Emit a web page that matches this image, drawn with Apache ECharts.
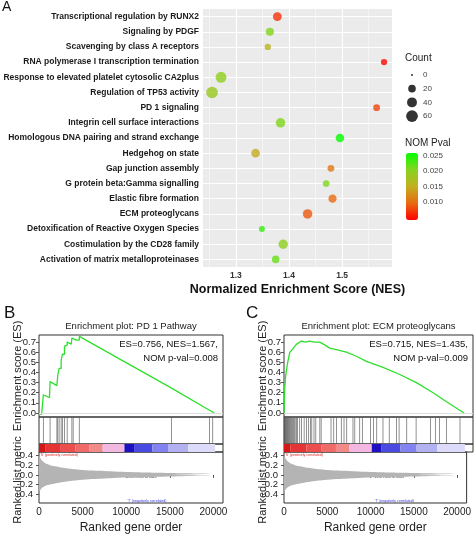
<!DOCTYPE html>
<html>
<head>
<meta charset="utf-8">
<script src="https://cdn.jsdelivr.net/npm/echarts@6/dist/echarts.min.js"></script>
<style>html,body{margin:0;padding:0;background:#fff}#c{width:474px;height:535px}</style>
</head>
<body>
<div id="c"></div>
<script>
// panel A: pathway dots
const pathways = ["Transcriptional regulation by RUNX2", "Signaling by PDGF", "Scavenging by class A receptors",
  "RNA polymerase I transcription termination", "Response to elevated platelet cytosolic CA2plus",
  "Regulation of TP53 activity", "PD 1 signaling", "Integrin cell surface interactions",
  "Homologous DNA pairing and strand exchange", "Hedgehog on state", "Gap junction assembly",
  "G protein beta:Gamma signalling", "Elastic fibre formation", "ECM proteoglycans",
  "Detoxification of Reactive Oxygen Species", "Costimulation by the CD28 family",
  "Activation of matrix metalloproteinases"];
const nes = [1.378, 1.364, 1.360, 1.579, 1.272, 1.255, 1.565, 1.384, 1.496, 1.337, 1.479, 1.470, 1.482, 1.435, 1.349, 1.389, 1.375];
const counts = [30, 24, 12, 12, 50, 60, 15, 36, 28, 28, 15, 14, 25, 36, 10, 35, 20];
const pvals = [0.007, 0.021, 0.016, 0.005, 0.020, 0.019, 0.008, 0.021, 0.026, 0.015, 0.011, 0.021, 0.010, 0.009, 0.024, 0.020, 0.022];
const nesTicks = [1.3, 1.4, 1.5];
const nesGrid = [1.25, 1.3, 1.35, 1.4, 1.45, 1.5, 1.55];
const countLegend = [0, 20, 40, 60];
const pvalTicks = [0.025, 0.020, 0.015, 0.010];

// panel B: PD 1 pathway
const esB = [[0,0],[300,-0.015],[500,-0.01],[500,0.18],[1200,0.15],[1270,0.15],[1270,0.31],[2050,0.27],[2150,0.27],[2150,0.37],
  [2310,0.44],[2500,0.43],[2540,0.44],[2540,0.52],[2690,0.53],[2690,0.58],[2900,0.57],[2920,0.58],[2920,0.66],[3230,0.67],[3230,0.70],
  [3700,0.68],[3770,0.68],[3770,0.74],[4300,0.72],[4620,0.72],[4620,0.756],[15100,0.25],[15190,0.24],[20100,0]];
const hitsB = [500, 1270, 2050, 2150, 2310, 2540, 2690, 2920, 3230, 3770, 3920, 4620, 15190, 19540, 19920];
// panel C: ECM proteoglycans
const esC = [[0,0],[75,0.235],[186,0.366],[372,0.48],[633,0.595],[931,0.628],[1378,0.677],[1937,0.71],[2400,0.70],[2868,0.71],
  [3400,0.70],[3985,0.70],[4600,0.67],[5100,0.64],[5850,0.625],[6960,0.60],[8080,0.56],[9200,0.51],[11060,0.45],[12920,0.38],
  [14780,0.30],[16650,0.20],[18140,0.11],[20100,0]];
const hitsC = [20, 60, 100, 150, 200, 260, 320, 380, 450, 520, 600, 680, 760, 850, 950, 1050, 1150, 1250, 1400, 1500,
  1750, 1950, 2250, 2500, 2750, 2950, 3100, 3350, 3550, 4000, 4150, 5250, 5550, 5850, 6400, 6700, 7000, 7700, 7900,
  8450, 8750, 9650, 10000, 10350, 11050, 11750, 12550, 12850, 13700, 14750, 16350, 16900, 17350, 18150, 19650];
const segStart = [0, 700, 2500, 4200, 5800, 7300, 9800, 10900, 13000, 14800, 17100];
const segEnd = [700, 2500, 4200, 5800, 7300, 9800, 10900, 13000, 14800, 17100, 20200];
const segColor = ['#d41616', '#e43434', '#ec4e4e', '#f06a6a', '#f28a8a', '#f2b8e0', '#1c10c0', '#4a4ae2', '#8282f0', '#b2b2f2', '#dcdcfa'];
const metricX = [0, 200, 500, 1000, 2000, 3000, 5000, 7500, 10000, 15000, 20100];
const metricUp = [0.42, 0.33, 0.27, 0.22, 0.17, 0.14, 0.10, 0.08, 0.06, 0.04, 0.025];
const metricLow = [-0.36, -0.30, -0.25, -0.21, -0.17, -0.14, -0.10, -0.075, -0.055, -0.035, -0.015];
const geneTicks = [0, 5000, 10000, 15000, 20000];
const esTicks = [0, 0.1, 0.2, 0.3, 0.4, 0.5, 0.6, 0.7];
const metricTicks = [-0.4, -0.2, 0, 0.2, 0.4];

const FONT = 'Liberation Sans';
const chart = echarts.init(document.getElementById('c'));
const grids = [], xAxes = [], yAxes = [], series = [], graphics = [], metricAxes = [];
const hidden = { show: false };
const sizeOf = c => 2 + 1.25 * Math.sqrt(c);

// A grid
grids.push({ left: 203, top: 9, width: 189, height: 258, show: true, backgroundColor: '#ebebeb', borderWidth: 0 });
xAxes.push({ gridIndex: 0, type: 'value', min: 1.238, max: 1.594, splitLine: hidden, axisLine: hidden,
  axisTick: { customValues: nesTicks, length: 3, lineStyle: { color: '#333' } },
  axisLabel: { customValues: nesTicks, fontFamily: FONT, fontWeight: 'bold', fontSize: 8.5, color: '#333', margin: 4, formatter: v => v.toFixed(1) },
  name: 'Normalized Enrichment Score (NES)', nameLocation: 'middle', nameGap: 16,
  nameTextStyle: { fontFamily: FONT, fontWeight: 'bold', fontSize: 12.5, color: '#111' } });
yAxes.push({ gridIndex: 0, type: 'category', data: pathways, inverse: true, boundaryGap: true,
  axisLine: hidden, splitLine: hidden,
  axisTick: { length: 3, lineStyle: { color: '#333' }, alignWithLabel: true },
  axisLabel: { fontFamily: FONT, fontWeight: 'bold', fontSize: 8.5, color: '#1a1a1a', margin: 4, interval: 0 } });
series.push({ type: 'scatter', xAxisIndex: 0, yAxisIndex: 0, z: 5,
  data: pathways.map((p, i) => [nes[i], p, pvals[i], counts[i]]),
  symbolSize: v => sizeOf(v[3]),
  markLine: { silent: true, symbol: 'none', label: hidden, z: 1,
    data: nesGrid.map(v => ({ xAxis: v, lineStyle: { color: '#fff', type: 'solid', width: nesTicks.includes(v) ? 1.1 : 0.5 } }))
      .concat(pathways.map(p => ({ yAxis: p, lineStyle: { color: '#fff', type: 'solid', width: 1.1 } }))) } });

// A size legend
grids.push({ left: 404, top: 68, width: 16, height: 55 });
xAxes.push({ gridIndex: 1, type: 'value', min: 0, max: 1, show: false });
yAxes.push({ gridIndex: 1, type: 'category', data: countLegend.map(String), inverse: true, position: 'right',
  axisLine: hidden, axisTick: hidden, splitLine: hidden,
  axisLabel: { fontFamily: FONT, fontSize: 8, color: '#444', margin: 3 } });
series.push({ type: 'scatter', xAxisIndex: 1, yAxisIndex: 1, itemStyle: { color: '#000' },
  data: countLegend.map(c => [0.5, String(c), c]), symbolSize: v => sizeOf(v[2]) });
graphics.push({ type: 'text', left: 405, top: 53, style: { text: 'Count', font: `10px "${FONT}"`, fill: '#222' } });
graphics.push({ type: 'text', left: 405, top: 138, style: { text: 'NOM Pval', font: `10px "${FONT}"`, fill: '#222' } });
const pMin = 0.0046, pMax = 0.0261, barTop = 153, barH = 67;
pvalTicks.forEach(v => graphics.push({ type: 'text', left: 423, top: barTop + (pMax - v) / (pMax - pMin) * barH - 5,
  style: { text: v.toFixed(3), font: `8px "${FONT}"`, fill: '#444' } }));

function panel(left, width, title, es, hits, notes) {
  const g = grids.length;
  const tops = [335, 417, 444, 452], hs = [82, 27, 8, 55];
  tops.forEach((t, k) => grids.push({ left, width, top: t, height: hs[k], show: true, borderColor: '#333', borderWidth: 1, backgroundColor: 'transparent' }));
  for (let k = 0; k < 4; k++) {
    xAxes.push({ gridIndex: g + k, type: 'value', min: 0, max: 21100,
      axisLine: hidden, splitLine: hidden,
      axisTick: k === 3 ? { customValues: geneTicks, length: 3 } : hidden,
      axisLabel: k === 3 ? { customValues: geneTicks, fontFamily: FONT, fontSize: 10, color: '#222', margin: 4, formatter: v => String(v) } : hidden,
      name: k === 3 ? 'Ranked gene order' : '', nameLocation: 'middle', nameGap: 19,
      nameTextStyle: { fontFamily: FONT, fontSize: 12, color: '#222' } });
  }
  yAxes.push({ gridIndex: g, type: 'value', min: -0.04, max: 0.77, axisLine: hidden, splitLine: hidden,
    axisTick: { customValues: esTicks, length: 3 },
    axisLabel: { customValues: esTicks, fontFamily: FONT, fontSize: 9.5, lineHeight: 6, color: '#222', margin: 3, hideOverlap: false, formatter: v => v.toFixed(1) } });
  yAxes.push({ gridIndex: g + 1, type: 'value', min: 0, max: 1, show: false });
  yAxes.push({ gridIndex: g + 2, type: 'value', min: 0, max: 1, show: false });
  yAxes.push({ gridIndex: g + 3, type: 'value', min: -0.577, max: 0.47, axisLine: hidden, splitLine: hidden,
    axisTick: { customValues: metricTicks, length: 3 }, axisLabel: hidden });
  metricAxes.push({ x: g + 3, y: g + 3, left });
  series.push({ type: 'line', xAxisIndex: g, yAxisIndex: g, data: es, showSymbol: false, lineStyle: { color: '#2ee02e', width: 1.3 },
    markLine: { silent: true, symbol: 'none', label: hidden, data: [{ yAxis: 0, lineStyle: { color: '#ddd', type: 'solid', width: 1 } }] } });
  series.push({ type: 'scatter', xAxisIndex: g + 1, yAxisIndex: g + 1, data: hits.map(h => [h, 0.5]),
    symbol: 'rect', symbolSize: [0.8, 26], itemStyle: { color: '#555' } });
  series.push({ type: 'custom', xAxisIndex: g + 2, yAxisIndex: g + 2, data: segStart.map((s, i) => [s, segEnd[i], i]),
    renderItem: (params, api) => {
      const a = api.coord([api.value(0), 1]), b = api.coord([api.value(1), 0]);
      return { type: 'rect', shape: { x: a[0], y: a[1], width: b[0] - a[0], height: b[1] - a[1] }, style: { fill: segColor[api.value(2)] } };
    } });
  [metricUp, metricLow].forEach(arr => series.push({ type: 'line', xAxisIndex: g + 3, yAxisIndex: g + 3,
    data: metricX.map((x, i) => [x, arr[i]]), showSymbol: false, smooth: true,
    lineStyle: { width: 0 }, areaStyle: { color: '#b4b4b4', opacity: 1 } }));
  graphics.push({ type: 'text', x: left + width / 2, y: 321, style: { text: title, font: `9.5px "${FONT}"`, fill: '#222', textAlign: 'center' } });
  graphics.push({ type: 'text', x: left + width - 5, y: 339, style: { text: notes[0], font: `9.5px "${FONT}"`, fill: '#111', textAlign: 'right' } });
  graphics.push({ type: 'text', x: left + width - 5, y: 353, style: { text: notes[1], font: `9.5px "${FONT}"`, fill: '#111', textAlign: 'right' } });
  graphics.push({ type: 'text', x: left + 1, y: 453, style: { text: "'S' (positively correlated)", font: `3.5px "${FONT}"`, fill: '#e02020' } });
  graphics.push({ type: 'text', x: left + width * 0.48, y: 475, style: { text: 'Zero cross at 8843', font: `3.5px "${FONT}"`, fill: '#333' } });
  graphics.push({ type: 'text', x: left + width * 0.48, y: 499, style: { text: "'T' (negatively correlated)", font: `3.5px "${FONT}"`, fill: '#3030e0' } });
  graphics.push({ type: 'text', x: left - 27, y: 376, rotation: Math.PI / 2, style: { text: 'Enrichment score (ES)', font: `11px "${FONT}"`, fill: '#222', textAlign: 'center' } });
  graphics.push({ type: 'text', x: left - 27, y: 480, rotation: Math.PI / 2, style: { text: 'Ranked list metric', font: `11px "${FONT}"`, fill: '#222', textAlign: 'center' } });
}
panel(39, 184, 'Enrichment plot: PD 1 Pathway', esB, hitsB, ['ES=0.756, NES=1.567,', 'NOM p-val=0.008']);
panel(284, 189, 'Enrichment plot: ECM proteoglycans', esC, hitsC, ['ES=0.715, NES=1.435,', 'NOM p-val=0.009']);

graphics.push({ type: 'text', left: 2, top: 0, style: { text: 'A', font: `14px "${FONT}"`, fill: '#111' } });
graphics.push({ type: 'text', left: 4, top: 305, style: { text: 'B', font: `17px "${FONT}"`, fill: '#111' } });
graphics.push({ type: 'text', left: 246, top: 305, style: { text: 'C', font: `17px "${FONT}"`, fill: '#111' } });

chart.setOption({
  animation: false,
  grid: grids, xAxis: xAxes, yAxis: yAxes, series,
  visualMap: { type: 'continuous', seriesIndex: 0, dimension: 2, min: pMin, max: pMax, left: 391, top: barTop - 15,
    itemWidth: 12, itemHeight: barH, calculable: false, showLabel: false,
    inRange: { color: ['#ff0000', '#e86a10', '#c2b020', '#86d41e', '#00ff00'] } },
  graphic: graphics
});

// ranked list metric tick labels, placed through the axis scale
metricAxes.forEach(m => metricTicks.forEach(v => {
  const p = chart.convertToPixel({ xAxisIndex: m.x, yAxisIndex: m.y }, [0, v]);
  graphics.push({ type: 'text', x: m.left - 6, y: p[1], style: { text: v.toFixed(1), font: `9.5px "${FONT}"`, fill: '#222', textAlign: 'right', textVerticalAlign: 'middle' } });
}));
chart.setOption({ graphic: graphics });
</script>
</body>
</html>
